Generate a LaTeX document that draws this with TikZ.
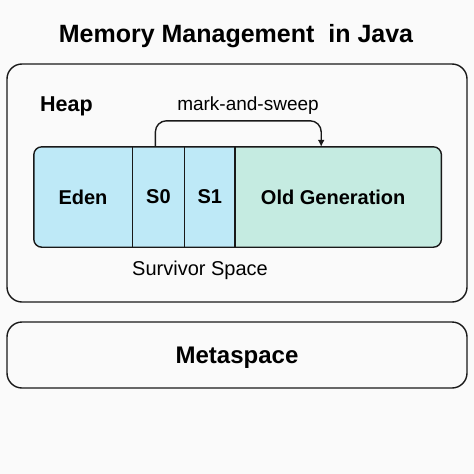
\documentclass[tikz,border=0pt]{standalone}
\usepackage{fontspec}
\setmainfont{Liberation Sans}
\usetikzlibrary{arrows.meta, positioning, backgrounds}
\definecolor{bgpaper}{RGB}{250,250,250}
\definecolor{edenblue}{RGB}{190,233,247}
\definecolor{oldgreen}{RGB}{197,235,225}

\begin{document}
\begin{tikzpicture}[x=1pt, y=-1pt,
    region/.style={draw=black!90, line width=1.4pt, rounded corners=15pt, inner sep=0pt},
    cell/.style={minimum height=100pt, inner sep=0pt, font=\fontsize{20}{24}\selectfont\bfseries},
    bar/.style={draw=black!90, line width=1.4pt},
    plain/.style={anchor=base, font=\fontsize{19}{23}\selectfont}]

  % title
  \node[anchor=base, font=\fontsize{25}{30}\selectfont\bfseries] (title) at (236,42) {Memory Management\ \ in Java};

  % heap and metaspace
  \node[region, minimum width=460pt, minimum height=238pt] (heap) at (237,183) {};
  \node[anchor=base west, inner sep=0pt, font=\fontsize{21.5}{26}\selectfont\bfseries] (heaplabel) at (40,111) {Heap};
  \node[region, minimum width=460pt, minimum height=66pt, text depth=0pt,
        font=\fontsize{24}{28}\selectfont\bfseries] (meta) at (237,355) {Metaspace};

  % generations
  \node[cell, minimum width=98pt] (eden) at (83,197) {Eden};
  \node[cell, minimum width=52pt, right=0pt of eden] (s0) {S0};
  \node[cell, minimum width=50pt, right=0pt of s0] (s1) {S1};
  \node[cell, minimum width=206pt, right=0pt of s1] (old) {\hspace*{-10pt}Old Generation};

  \begin{scope}[on background layer]
    \fill[bgpaper] (0,0) rectangle (474,474);
    \clip[rounded corners=8pt] (eden.north west) rectangle (old.south east);
    \fill[edenblue] (eden.north west) rectangle (s1.south east);
    \fill[oldgreen] (old.north west) rectangle (old.south east);
  \end{scope}
  \draw[bar, rounded corners=8pt] (eden.north west) rectangle (old.south east);
  \foreach \c in {eden, s0, s1}
    \draw[bar] (\c.north east) -- (\c.south east);

  % collection arrow
  \coordinate (sweep) at ([xshift=-17pt]old.north);
  \draw[bar, -{Latex[length=7pt, width=7pt]}, rounded corners=11pt]
    ([xshift=-3pt]s0.north) -- ++(0,-26) -| (sweep);
  \node[plain] (marklabel) at (248,110) {mark-and-sweep};

  \node[plain, font=\fontsize{20}{24}\selectfont] (survivor) at (200,275) {Survivor Space};
\end{tikzpicture}
\end{document}
